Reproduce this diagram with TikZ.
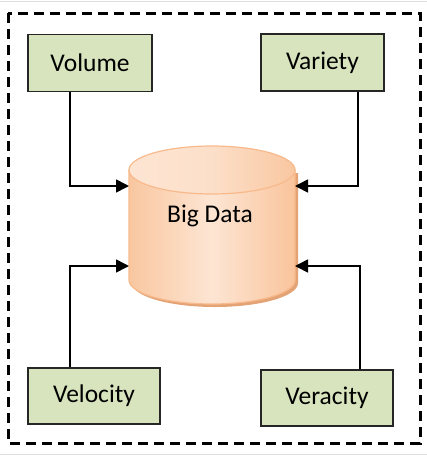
\documentclass[tikz,border=0pt]{standalone}
\usepackage{fontspec}
\setmainfont{Carlito}
\usetikzlibrary{arrows.meta}
\definecolor{boxgreen}{HTML}{D7E4BD}
\definecolor{boxline}{HTML}{262626}
\definecolor{cylA}{HTML}{F9C7A0}
\definecolor{cylB}{HTML}{FDE5D3}
\definecolor{cylC}{HTML}{F9C49C}
\definecolor{cylLine}{HTML}{F8BA8C}
\definecolor{cylShadow}{HTML}{E3A375}
\tikzset{
  vbox/.style={draw=boxline, line width=1.5pt, fill=boxgreen, minimum width=124pt, minimum height=57pt, font=\fontsize{25.5}{30}\selectfont, inner sep=0pt},
  conn/.style={draw=black, line width=1.6pt, -{Triangle[length=13pt,width=13pt]}},
  label/.style={font=\fontsize{25.5}{30}\selectfont, inner sep=0pt}
}
\begin{document}
\begin{tikzpicture}[x=1pt,y=-1pt]
\useasboundingbox (0,0) rectangle (427,455);
\fill[white] (0,0) rectangle (427,455);
\draw[gray!25, line width=1pt] (0,1) -- (427,1);
\draw[gray!25, line width=1pt] (0,454) -- (427,454);
% dashed frame
\draw[black, line width=3pt, dash pattern=on 10pt off 6pt] (8,13) rectangle (420,443);
% cylinder shadow
\fill[cylShadow] (132,173) -- (132,283) arc[start angle=180, end angle=0, x radius=83, y radius=24] -- (298,173) -- cycle;
% cylinder body
\path[draw=cylLine, line width=1.2pt, left color=cylA, right color=cylC, middle color=cylB]
  (129,170) -- (129,280) arc[start angle=180, end angle=0, x radius=83, y radius=24] -- (295,170) -- cycle;
% top ellipse
\path[draw=cylLine, line width=1.2pt, left color=cylB, right color=cylA, middle color=cylB!80!cylA]
  (212,170) ellipse[x radius=83, y radius=24];
\node[label] (bd) at (210,216) {Big Data};
\coordinate (cA) at (129,186);
\coordinate (cB) at (295,186);
\coordinate (cC) at (129,266);
\coordinate (cD) at (295,266);
% boxes
\node[vbox] (vol) at (90,63) {Volume};
\node[vbox, minimum width=123pt] (var) at (322.5,62.5) {Variety};
\node[vbox, minimum width=132pt, minimum height=56pt] (vel) at (94,396) {Velocity};
\node[vbox, minimum width=132pt, minimum height=56pt] (ver) at (327,398) {Veracity};
% connectors
\draw[conn] ([xshift=-20pt]vol.south) |- (cA);
\draw[conn] ([xshift=35.5pt]var.south) |- (cB);
\draw[conn] ([xshift=-24pt]vel.north) |- (cC);
\draw[conn] ([xshift=33pt]ver.north) |- (cD);
\end{tikzpicture}
\end{document}
